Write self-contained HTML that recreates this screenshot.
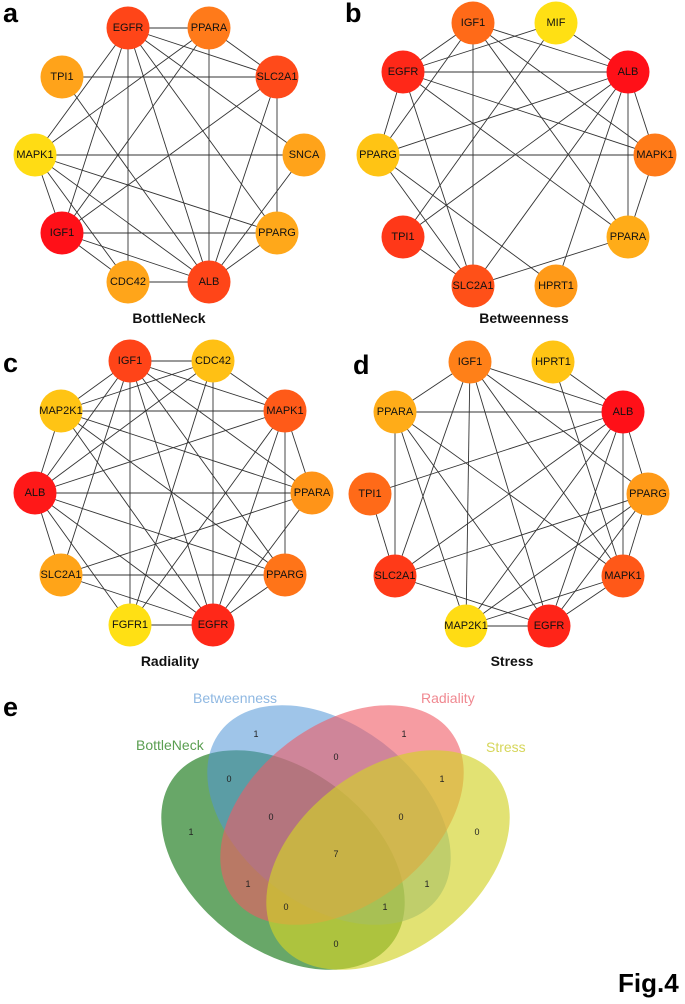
<!DOCTYPE html>
<html><head><meta charset="utf-8"><style>
html,body{margin:0;padding:0;background:#fff;}
svg{display:block;}
.n{font-family:"Liberation Sans",sans-serif;font-size:11px;fill:#111;text-anchor:middle;dominant-baseline:central;}
.t{font-family:"Liberation Sans",sans-serif;font-size:14px;font-weight:bold;fill:#111;text-anchor:middle;}
.p{font-family:"Liberation Sans",sans-serif;font-size:27px;font-weight:bold;fill:#000;}
.v{font-family:"Liberation Sans Narrow","Liberation Sans",sans-serif;font-size:14px;}
.c{font-family:"Liberation Sans",sans-serif;font-size:9px;fill:#222;text-anchor:middle;dominant-baseline:central;}
</style></head><body>
<svg id="s" width="685" height="1004" viewBox="0 0 685 1004" xmlns="http://www.w3.org/2000/svg">
<g id="g"></g>
<g class="n">
<text x="128" y="28">EGFR</text><text x="209" y="28">PPARA</text><text x="62" y="77">TPI1</text><text x="277" y="77">SLC2A1</text><text x="35" y="155">MAPK1</text><text x="304" y="155">SNCA</text><text x="62" y="233">IGF1</text><text x="277" y="233">PPARG</text><text x="128" y="282">CDC42</text><text x="209" y="282">ALB</text>
<text x="473" y="23">IGF1</text><text x="556" y="23">MIF</text><text x="403" y="72">EGFR</text><text x="628" y="72">ALB</text><text x="378" y="155">PPARG</text><text x="655" y="155">MAPK1</text><text x="403" y="237">TPI1</text><text x="628" y="237">PPARA</text><text x="473" y="286">SLC2A1</text><text x="556" y="286">HPRT1</text>
<text x="130" y="361">IGF1</text><text x="213" y="361">CDC42</text><text x="61" y="411">MAP2K1</text><text x="285" y="411">MAPK1</text><text x="35" y="493">ALB</text><text x="312" y="493">PPARA</text><text x="61" y="575">SLC2A1</text><text x="285" y="575">PPARG</text><text x="130" y="625">FGFR1</text><text x="213" y="625">EGFR</text>
<text x="470" y="362">IGF1</text><text x="553" y="362">HPRT1</text><text x="395" y="412">PPARA</text><text x="623" y="412">ALB</text><text x="370" y="494">TPI1</text><text x="648" y="494">PPARG</text><text x="395" y="576">SLC2A1</text><text x="623" y="576">MAPK1</text><text x="466" y="626">MAP2K1</text><text x="549" y="626">EGFR</text>
</g>
<text class="t" x="169" y="323">BottleNeck</text>
<text class="t" x="524" y="323">Betweenness</text>
<text class="t" x="170" y="666">Radiality</text>
<text class="t" x="512" y="666">Stress</text>
<text class="p" x="3" y="22">a</text>
<text class="p" x="345" y="22">b</text>
<text class="p" x="3" y="372">c</text>
<text class="p" x="353" y="374">d</text>
<text class="p" x="3" y="716">e</text>
<text class="p" x="618" y="992" style="font-size:26px">Fig.4</text>
<g>
<ellipse cx="283" cy="860" rx="137" ry="90" transform="rotate(37.5 283 860)" fill="rgb(40,130,40)" fill-opacity="0.7"/>
<ellipse cx="329" cy="815" rx="137" ry="90" transform="rotate(37.5 329 815)" fill="rgb(80,150,215)" fill-opacity="0.55"/>
<ellipse cx="342" cy="815" rx="137" ry="90" transform="rotate(-37.5 342 815)" fill="rgb(240,90,100)" fill-opacity="0.6"/>
<ellipse cx="388" cy="860" rx="137" ry="90" transform="rotate(-37.5 388 860)" fill="rgb(210,210,40)" fill-opacity="0.65"/>
</g>
<text class="v" x="193" y="703" fill="#8fb8e2">Betweenness</text>
<text class="v" x="421" y="703" fill="#f08890">Radiality</text>
<text class="v" x="136" y="750" fill="#5a9e50">BottleNeck</text>
<text class="v" x="486" y="752" fill="#d6d65a">Stress</text>
<g class="c">
<text x="256" y="734">1</text><text x="404" y="734">1</text><text x="336" y="757">0</text>
<text x="229" y="779">0</text><text x="442" y="779">1</text>
<text x="191" y="832">1</text><text x="477" y="832">0</text>
<text x="271" y="817">0</text><text x="401" y="817">0</text>
<text x="336" y="854">7</text>
<text x="248" y="884">1</text><text x="427" y="884">1</text>
<text x="286" y="907">0</text><text x="385" y="907">1</text>
<text x="336" y="944">0</text>
</g>
</svg>
<script>
var P=[
{n:{EGFR:[128,28,'#ff4518'],PPARA:[209,28,'#ff7a1a'],TPI1:[62,77,'#ffa31a'],SLC2A1:[277,77,'#ff4a1a'],MAPK1:[35,155,'#ffdc14'],SNCA:[304,155,'#ffa31a'],IGF1:[62,233,'#ff1018'],PPARG:[277,233,'#ffa81a'],CDC42:[128,282,'#ffa51a'],ALB:[209,282,'#ff4518']},
e:"EGFR-PPARA EGFR-SLC2A1 EGFR-SNCA EGFR-PPARG EGFR-ALB EGFR-CDC42 EGFR-IGF1 EGFR-MAPK1 PPARA-SLC2A1 PPARA-ALB PPARA-MAPK1 PPARA-IGF1 TPI1-SLC2A1 TPI1-ALB SLC2A1-PPARG SLC2A1-IGF1 SLC2A1-ALB MAPK1-SNCA MAPK1-PPARG MAPK1-IGF1 MAPK1-CDC42 MAPK1-ALB SNCA-ALB IGF1-PPARG IGF1-CDC42 IGF1-ALB CDC42-ALB PPARG-ALB"},
{n:{IGF1:[473,23,'#ff6a18'],MIF:[556,23,'#ffe014'],EGFR:[403,72,'#ff2818'],ALB:[628,72,'#ff1018'],PPARG:[378,155,'#ffc414'],MAPK1:[655,155,'#ff7a18'],TPI1:[403,237,'#ff3818'],PPARA:[628,237,'#ffac18'],SLC2A1:[473,286,'#ff5018'],HPRT1:[556,286,'#ff9a18']},
e:"IGF1-EGFR IGF1-PPARG IGF1-SLC2A1 IGF1-ALB IGF1-MAPK1 IGF1-PPARA MIF-EGFR MIF-ALB MIF-TPI1 EGFR-ALB EGFR-MAPK1 EGFR-PPARA EGFR-PPARG EGFR-SLC2A1 ALB-PPARG ALB-TPI1 ALB-SLC2A1 ALB-HPRT1 ALB-MAPK1 ALB-PPARA PPARG-MAPK1 PPARG-SLC2A1 PPARG-HPRT1 TPI1-SLC2A1 PPARA-SLC2A1 MAPK1-PPARA"},
{n:{IGF1:[130,361,'#ff4418'],CDC42:[213,361,'#ffc014'],MAP2K1:[61,411,'#ffc414'],MAPK1:[285,411,'#ff5a18'],ALB:[35,493,'#ff1818'],PPARA:[312,493,'#ff9418'],SLC2A1:[61,575,'#ffa418'],PPARG:[285,575,'#ff7418'],FGFR1:[130,625,'#ffe014'],EGFR:[213,625,'#ff2818']},
e:"IGF1-CDC42 IGF1-MAP2K1 IGF1-ALB IGF1-SLC2A1 IGF1-FGFR1 IGF1-EGFR IGF1-PPARG IGF1-PPARA IGF1-MAPK1 CDC42-MAP2K1 CDC42-ALB CDC42-MAPK1 CDC42-EGFR CDC42-FGFR1 MAP2K1-MAPK1 MAP2K1-ALB MAP2K1-PPARA MAP2K1-PPARG MAP2K1-EGFR MAPK1-ALB MAPK1-PPARA MAPK1-PPARG MAPK1-EGFR MAPK1-FGFR1 ALB-PPARA ALB-SLC2A1 ALB-FGFR1 ALB-EGFR ALB-PPARG PPARA-SLC2A1 PPARA-EGFR SLC2A1-PPARG SLC2A1-EGFR PPARG-EGFR FGFR1-EGFR"},
{n:{IGF1:[470,362,'#ff8018'],HPRT1:[553,362,'#ffc414'],PPARA:[395,412,'#ffac18'],ALB:[623,412,'#ff1018'],TPI1:[370,494,'#ff6a18'],PPARG:[648,494,'#ff9a18'],SLC2A1:[395,576,'#ff3a18'],MAPK1:[623,576,'#ff5818'],MAP2K1:[466,626,'#ffdc14'],EGFR:[549,626,'#ff2418']},
e:"IGF1-PPARA IGF1-ALB IGF1-SLC2A1 IGF1-MAP2K1 IGF1-EGFR IGF1-MAPK1 IGF1-PPARG HPRT1-ALB HPRT1-MAPK1 PPARA-ALB PPARA-SLC2A1 PPARA-MAP2K1 PPARA-EGFR PPARA-MAPK1 ALB-TPI1 ALB-SLC2A1 ALB-MAP2K1 ALB-EGFR ALB-MAPK1 ALB-PPARG TPI1-SLC2A1 PPARG-SLC2A1 PPARG-MAP2K1 PPARG-EGFR PPARG-MAPK1 SLC2A1-EGFR MAPK1-MAP2K1 MAPK1-EGFR MAP2K1-EGFR"}];
var g=document.getElementById('g'),h='';
P.forEach(function(p){p.e.split(' ').forEach(function(s){var a=s.split('-'),u=p.n[a[0]],v=p.n[a[1]];
h+='<line x1="'+u[0]+'" y1="'+u[1]+'" x2="'+v[0]+'" y2="'+v[1]+'" stroke="#333" stroke-width="0.9"/>';});});
P.forEach(function(p){for(var k in p.n){var u=p.n[k];h+='<circle cx="'+u[0]+'" cy="'+u[1]+'" r="21.5" fill="'+u[2]+'"/>';}});
g.innerHTML=h;
</script>
</body></html>
